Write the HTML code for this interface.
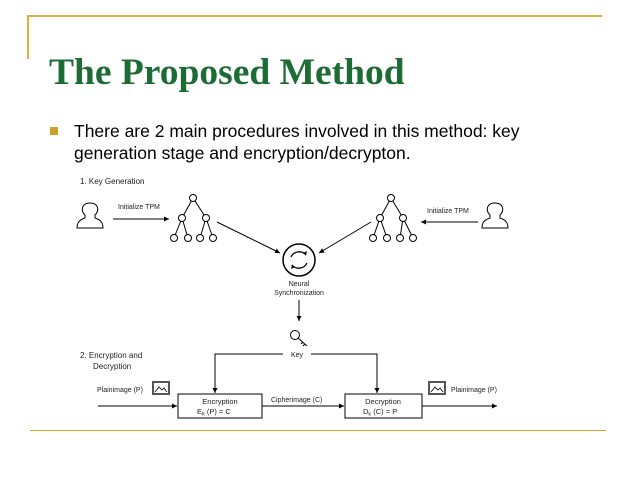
<!DOCTYPE html>
<html><head><meta charset="utf-8"><style>
html,body{margin:0;padding:0;background:#fff;width:638px;height:478px;overflow:hidden;position:relative;font-family:"Liberation Sans",sans-serif}
.t{position:absolute;left:49px;top:51px;font-family:"Liberation Serif",serif;font-weight:bold;font-size:37.5px;color:#1d6b35;white-space:nowrap}
.b{position:absolute;left:74px;top:120px;font-size:17.5px;line-height:22px;color:#000;width:470px}
.sq{position:absolute;left:50px;top:127px;width:8px;height:8px;background:#c9a227}
</style></head><body>
<div style="position:absolute;left:27px;top:15px;width:575px;height:2px;background:#e0b040"></div>
<div style="position:absolute;left:27px;top:15px;width:2px;height:44px;background:#e0b040"></div>
<div style="position:absolute;left:30px;top:430px;width:576px;height:1px;background:#d9a520"></div>
<div class="t">The Proposed Method</div>
<div class="sq"></div>
<div class="b">There are 2 main procedures involved in this method: key generation stage and encryption/decrypton.</div>
<svg width="638" height="478" style="position:absolute;left:0;top:0" font-family="Liberation Sans, sans-serif" font-size="7.5" fill="#222">
<defs><marker id="a" markerWidth="6" markerHeight="6" refX="5" refY="3" orient="auto"><path d="M0,0.5 L5,3 L0,5.5z" fill="#000"/></marker></defs>
<g stroke="#000" stroke-width="1" fill="none">
<path d="M85,215 C80,210 82,203 90,203 C98,203 100,210 95,215 L95,218 C101,220 103,223 103,228 L77,228 C77,223 79,220 85,218Z"/>
<path d="M490,215 C485,210 487,203 495,203 C503,203 505,210 500,215 L500,218 C506,220 508,223 508,228 L482,228 C482,223 484,220 490,218Z"/>
<line x1="113" y1="219" x2="169" y2="219" marker-end="url(#a)"/>
<line x1="478" y1="222" x2="421" y2="222" marker-end="url(#a)"/>
<path d="M193,198 L182,218 M193,198 L206,218 M182,218 L174,238 M182,218 L188,238 M206,218 L200,238 M206,218 L213,238"/>
<path d="M391,198 L380,218 M391,198 L403,218 M380,218 L373,238 M380,218 L387,238 M403,218 L400,238 M403,218 L413,238"/>
<g fill="#fff">
<circle cx="193" cy="198" r="3.5"/><circle cx="182" cy="218" r="3.5"/><circle cx="206" cy="218" r="3.5"/>
<circle cx="174" cy="238" r="3.5"/><circle cx="188" cy="238" r="3.5"/><circle cx="200" cy="238" r="3.5"/><circle cx="213" cy="238" r="3.5"/>
<circle cx="391" cy="198" r="3.5"/><circle cx="380" cy="218" r="3.5"/><circle cx="403" cy="218" r="3.5"/>
<circle cx="373" cy="238" r="3.5"/><circle cx="387" cy="238" r="3.5"/><circle cx="400" cy="238" r="3.5"/><circle cx="413" cy="238" r="3.5"/>
</g>
<line x1="217" y1="222" x2="280" y2="253" marker-end="url(#a)"/>
<line x1="371" y1="222" x2="319" y2="253" marker-end="url(#a)"/>
<circle cx="299" cy="260" r="16" stroke-width="1.5"/>
<path d="M291,257 A9,9 0 0 1 306,255 M307,263 A9,9 0 0 1 292,265" stroke-width="1.3"/>
<line x1="299" y1="300" x2="299" y2="321" marker-end="url(#a)"/>
<circle cx="295" cy="335" r="4.5"/><path d="M298,338 L307,346 M303,342 L301,344 M305,344 L303,346"/>
<path d="M283,354 L215,354 L215,393" marker-end="url(#a)"/>
<path d="M311,354 L377,354 L377,393" marker-end="url(#a)"/>
<rect x="178" y="394" width="84" height="24"/>
<rect x="345" y="394" width="77" height="24"/>
<line x1="98" y1="406" x2="177" y2="406" marker-end="url(#a)"/>
<line x1="262" y1="406" x2="344" y2="406" marker-end="url(#a)"/>
<line x1="422" y1="406" x2="497" y2="406" marker-end="url(#a)"/>
<rect x="153" y="382" width="16" height="12" stroke="#555" stroke-width="2"/>
<path d="M155,392 L159,387 L162,390 L164,388 L167,392" stroke-width="0.8"/>
<rect x="429" y="382" width="16" height="12" stroke="#555" stroke-width="2"/>
<path d="M431,392 L435,387 L438,390 L440,388 L443,392" stroke-width="0.8"/>
</g>
<path d="M306,255 l-3,-2 l4,-2z M292,265 l3,2 l-4,2z" fill="#000"/>
<text x="80" y="184" font-size="8">1. Key Generation</text>
<text x="118" y="209" font-size="7">Initialize TPM</text>
<text x="427" y="213" font-size="7">Initialize TPM</text>
<text x="299" y="286" text-anchor="middle" font-size="7">Neural</text>
<text x="299" y="295" text-anchor="middle" font-size="7">Synchronization</text>
<text x="297" y="357" text-anchor="middle" font-size="7">Key</text>
<text x="80" y="358" font-size="8">2. Encryption and</text>
<text x="93" y="369" font-size="8">Decryption</text>
<text x="97" y="392" font-size="7">Plainimage (P)</text>
<text x="451" y="392" font-size="7">Plainimage (P)</text>
<text x="271" y="402" font-size="7">Cipherimage (C)</text>
<text x="220" y="404" text-anchor="middle" font-size="7.5">Encryption</text>
<text x="197" y="414" font-size="7.5">E<tspan font-size="5.5" dy="1.5">k</tspan><tspan dy="-1.5"> (P) = C</tspan></text>
<text x="383" y="404" text-anchor="middle" font-size="7.5">Decryption</text>
<text x="363" y="414" font-size="7.5">D<tspan font-size="5.5" dy="1.5">k</tspan><tspan dy="-1.5"> (C) = P</tspan></text>
</svg>
</body></html>
